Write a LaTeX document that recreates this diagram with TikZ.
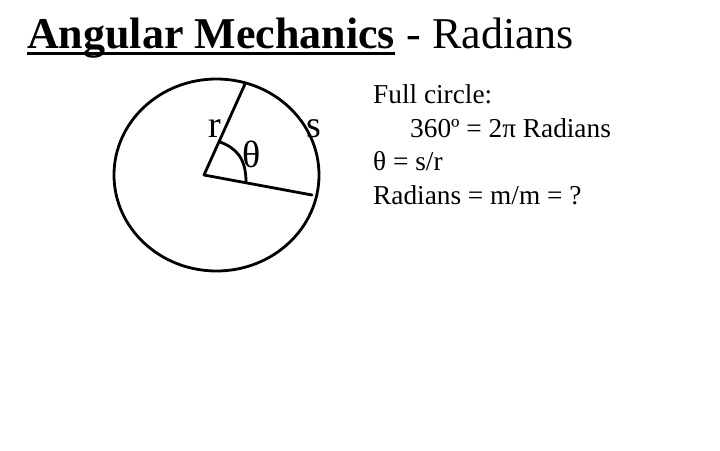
\documentclass[tikz,border=0pt]{standalone}
\usepackage{fontspec}
\setmainfont{Liberation Serif}
\newfontfamily\tnr{Liberation Serif}
\begin{document}
\begin{tikzpicture}[x=1pt,y=-1pt,
  txt/.style={inner sep=0pt,anchor=base west,font=\tnr\fontsize{27.3}{32}\selectfont},
  lbl/.style={inner sep=0pt,anchor=base,font=\tnr\fontsize{38}{44}\selectfont},
  ln/.style={line width=2.8pt,line cap=round,line join=round}]
\useasboundingbox[fill=white] (0,0) rectangle (720,450);
% title
\node[inner sep=0pt,anchor=base west,font=\tnr\fontsize{44}{50}\selectfont\bfseries] (t1) at (27,48) {Angular Mechanics};
\node[inner sep=0pt,anchor=base west,font=\tnr\fontsize{44}{50}\selectfont] (t2) at ([xshift=11pt]t1.base east) {- Radians};
\draw[line width=3pt] ([yshift=-5pt]t1.base west) -- ([yshift=-5pt]t1.base east);
% circle
\coordinate (c) at (216.5,175);
\draw[ln] (c) ellipse [x radius=102.5, y radius=96];
\coordinate (o) at (204,175);
\coordinate (a) at (245,84);
\coordinate (b) at (312,195);
\draw[ln] (a) -- (o) -- (b);
\coordinate (p1) at (220,142);
\coordinate (p2) at (246,182);
\draw[ln] (p1) .. controls (236,148) and (246,158) .. (p2);
\node[lbl] (r) at (215,137) {r};
\node[lbl] (th) at (252,167) {θ};
\node[lbl] (s) at (314,137) {s};
% text
\node[txt] (l1) at (373,103) {Full circle:};
\node[txt] (l2) at (410,137) {360º = 2π Radians};
\node[txt] (l3) at (373,170) {θ = s/r};
\node[txt] (l4) at (373,204) {Radians = m/m = ?};
\end{tikzpicture}
\end{document}
